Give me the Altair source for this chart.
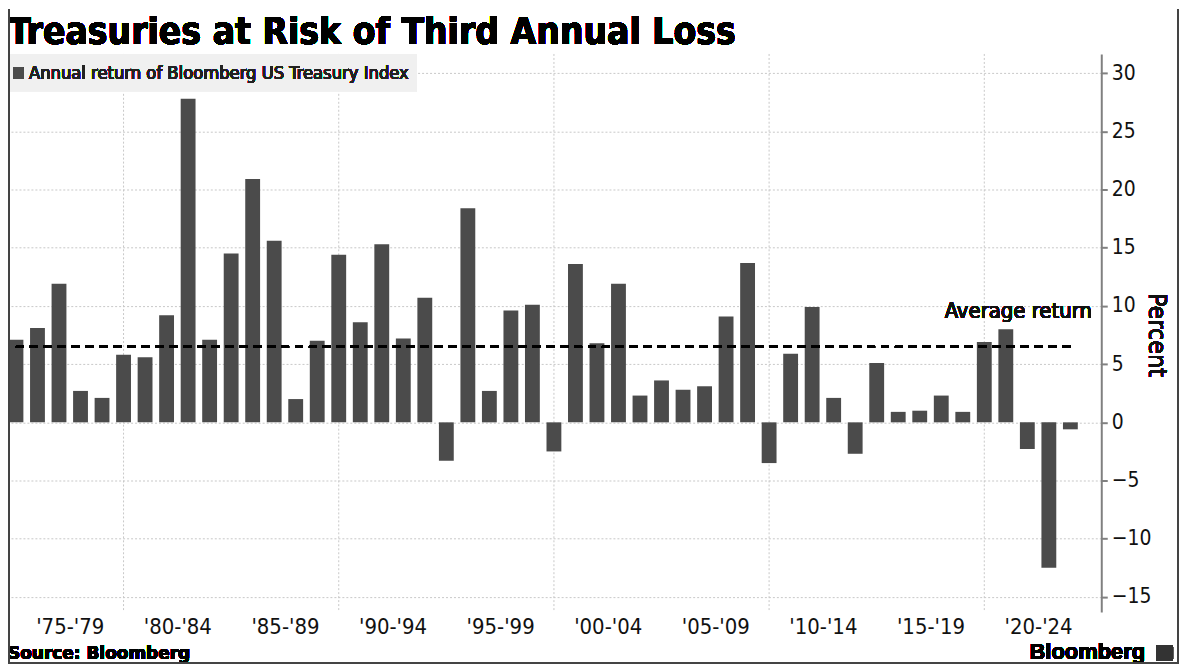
import altair as alt
import pandas as pd

# ---- data ----
years = list(range(1974, 2024))
returns = [7.1, 8.1, 11.9, 2.7, 2.1, 5.8, 5.6, 9.2, 27.8, 7.1,
           14.5, 20.9, 15.6, 2.0, 7.0, 14.4, 8.6, 15.3, 7.2, 10.7,
           -3.3, 18.4, 2.7, 9.6, 10.1, -2.5, 13.6, 6.8, 11.9, 2.3,
           3.6, 2.8, 3.1, 9.1, 13.7, -3.5, 5.9, 9.9, 2.1, -2.7,
           5.1, 0.9, 1.0, 2.3, 0.9, 6.9, 8.0, -2.3, -12.5, -0.6]
average_return = 6.5
decade_grid_years = [1979, 1989, 1999, 2009, 2019]
label_centers = [1976.5, 1981.5, 1986.5, 1991.5, 1996.5, 2001.5, 2006.5, 2011.5, 2016.5, 2021.5]
y_ticks = [-15, -12.5, -10, -7.5, -5, -2.5, 0, 2.5, 5, 7.5, 10, 12.5, 15, 17.5, 20, 22.5, 25, 27.5, 30]

title_text = "Treasuries at Risk of Third Annual Loss"
legend_text = "Annual return of Bloomberg US Treasury Index"
avg_text = "Average return"
y_title = "Percent"
source_text = "Source: Bloomberg"
brand_text = "Bloomberg"

COND = "DejaVu Sans Condensed, DejaVu Sans"
BAR = "#4b4b4b"

df = pd.DataFrame({"year": years, "ret": returns})
grid_df = pd.DataFrame({"g": decade_grid_years})

W, H = 1097, 560
xscale = alt.Scale(domain=[1973.63, 2024.436], nice=False, zero=False)
yscale = alt.Scale(domain=[-16.3, 31.65], nice=False, zero=False)

label_expr = ("\"'\" + substring(toString(datum.value - 1.5), 2, 4) + \"-'\" + "
              "substring(toString(datum.value + 2.5), 2, 4)")

x_axis = alt.Axis(values=label_centers, labelExpr=label_expr, domain=False, ticks=False,
                  grid=False, labelFont=COND, labelFontSize=22, labelColor="#111",
                  labelPadding=5, title=None, labelFlush=False)
y_axis = alt.Axis(orient="right", values=y_ticks,
                  labelExpr="datum.value % 5 === 0 ? datum.label : ''",
                  domainColor="#808080", domainWidth=2, tickColor="#808080", tickWidth=2,
                  tickSize=6, labelPadding=4, labelFont=COND, labelFontSize=21,
                  labelColor="#111", title=None, grid=True, gridColor="#c8c8c8",
                  gridDash=[2, 2], gridWidth=1,
                  gridOpacity={"condition": {"test": "datum.value % 5 === 0", "value": 1}, "value": 0})

base = alt.Chart(df)

vgrid = alt.Chart(grid_df).mark_rule(color="#c8c8c8", strokeDash=[2, 2], strokeWidth=1).encode(
    x=alt.X("g:Q", scale=xscale, axis=x_axis)
)

legend_box = alt.Chart(df).mark_rect(color="#f0f0f0").encode(
    x=alt.value(0), x2=alt.value(410), y=alt.value(0), y2=alt.value(38)
)
legend_sq = alt.Chart(df).mark_rect(color=BAR).encode(
    x=alt.value(5), x2=alt.value(16), y=alt.value(14), y2=alt.value(25)
)
legend_txt = alt.Chart(df).mark_text(text=legend_text, align="left", baseline="middle",
                                     font=COND, fontSize=18.3, color="#222").encode(
    x=alt.value(21), y=alt.value(20)
)

bars = base.transform_calculate(
    x0="datum.year - 0.345", x1="datum.year + 0.345"
).mark_bar(color=BAR).encode(
    x=alt.X("x0:Q", scale=xscale, axis=x_axis),
    x2="x1:Q",
    y=alt.Y("ret:Q", scale=yscale, axis=y_axis),
    y2=alt.datum(0),
)

avg_line = alt.Chart(df).mark_rule(color="#000", strokeDash=[8, 6], strokeWidth=2.5).encode(
    x=alt.datum(1974), x2=alt.datum(2023), y=alt.datum(average_return)
)
avg_label = alt.Chart(df).mark_text(text=avg_text, align="right", baseline="alphabetic",
                                    font=COND, fontSize=22, color="#111").encode(
    x=alt.datum(2024), y=alt.datum(9.0)
)

title = alt.Chart(df).mark_text(text=title_text, align="left", baseline="alphabetic",
                                font=COND, fontSize=37, fontWeight="bold", color="#000").encode(
    x=alt.value(0), y=alt.value(-10)
)
ytitle = alt.Chart(df).mark_text(text=y_title, align="center", baseline="middle", angle=90,
                                 font=COND, fontSize=25, color="#111").encode(
    x=alt.value(1153), y=alt.value(282)
)
source = alt.Chart(df).mark_text(text=source_text, align="left", baseline="alphabetic",
                                 font="DejaVu Sans", fontSize=17, fontWeight="bold", color="#000").encode(
    x=alt.value(0), y=alt.value(607)
)
brand = alt.Chart(df).mark_text(text=brand_text, align="right", baseline="alphabetic",
                                font="Liberation Sans", fontSize=22, fontWeight="bold", color="#000").encode(
    x=alt.value(1141), y=alt.value(607)
)
icon = alt.Chart(df).mark_rect(color="#333", cornerRadius=2).encode(
    x=alt.value(1152), x2=alt.value(1169), y=alt.value(593), y2=alt.value(609)
)
frame_left = alt.Chart(df).mark_rule(color="#444", strokeWidth=1.5).encode(
    x=alt.value(0.75), y=alt.value(-45), y2=alt.value(611)
)
frame_right = alt.Chart(df).mark_rule(color="#444", strokeWidth=1.5).encode(
    x=alt.value(1174), y=alt.value(-45), y2=alt.value(611)
)
frame_bottom = alt.Chart(df).mark_rule(color="#444", strokeWidth=1.5).encode(
    x=alt.value(0), x2=alt.value(1174.5), y=alt.value(611)
)

chart = alt.layer(
    vgrid, legend_box, legend_sq, legend_txt, bars, avg_line, avg_label,
    title, ytitle, source, brand, icon, frame_left, frame_right, frame_bottom
).properties(
    width=W, height=H,
    autosize=alt.AutoSizeParams(type="none"),
    padding={"left": 0, "top": 45, "right": 79, "bottom": 53},
).configure_view(stroke=None)

chart.save("out.html", embed_options={"renderer": "svg", "actions": False})
